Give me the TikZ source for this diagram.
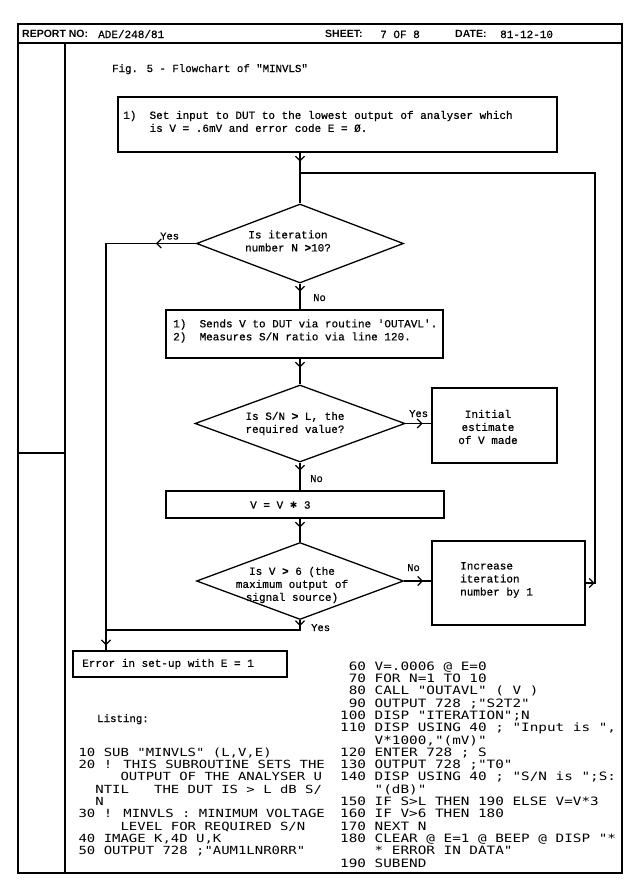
\documentclass[tikz,border=0pt]{standalone}
\usepackage{fontspec}
\setmainfont{Liberation Serif}
\newfontfamily\tw{Liberation Mono}[FakeBold=0.6]
\newfontfamily\hd{Liberation Sans}
\newfontfamily\lst{DejaVu Sans Mono}[FakeStretch=1.245]
\newfontfamily\djfont{DejaVu Sans}
\usetikzlibrary{shapes.geometric,arrows.meta,decorations.markings}
\setlength{\lineskiplimit}{-50pt}
\tikzset{
  frame/.style={line width=1.3pt, draw=black},
  flow/.style={line width=1.3pt, draw=black},
  box/.style={draw=black, line width=1.3pt, rectangle, inner sep=0pt},
  dia/.style={draw=black, line width=1.3pt, diamond, inner sep=0pt},
  txt/.style={font=\tw\fontsize{11}{13}\selectfont, inner sep=0pt, align=center},
  ltxt/.style={font=\tw\fontsize{11}{13}\selectfont, inner sep=0pt, align=left},
  lbl/.style={font=\tw\fontsize{10.5}{12}\selectfont, inner sep=0pt, anchor=base west},
  head/.style={font=\hd\bfseries\fontsize{10.5}{12}\selectfont, inner sep=0pt, anchor=base west},
  headv/.style={font=\tw\fontsize{11}{12}\selectfont, inner sep=0pt, anchor=base west},
  lstx/.style={font=\lst\fontsize{11.5}{12}\selectfont, inner sep=0pt, anchor=base west},
  lsty/.style={font=\lst\fontsize{11.2}{12}\selectfont, inner sep=0pt, anchor=base west},
  marrow/.style={postaction={decorate, decoration={markings, mark=at position #1 with {\arrow{Straight Barb[length=4.5pt,width=9pt,line width=1.3pt]}}}}},
}
\begin{document}
\begin{tikzpicture}[x=1pt,y=-1pt]
\useasboundingbox (0,0) rectangle (638,894);
% page frame
\draw[frame] (18,24) rectangle (622,873);
\draw[frame] (18,43) -- (622,43);
\draw[frame] (65,43) -- (65,873);
\draw[frame] (18,453) -- (65,453);
% header
\node[head] (hrep) at (22,37.5) {REPORT NO:};
\node[headv] (hrepv) at (98,38) {ADE/248/81};
\node[head] (hsh) at (325,37.5) {SHEET:};
\node[headv] (hshv) at (380,38) {7 OF 8};
\node[head] (hdate) at (455,37.5) {DATE:};
\node[headv] (hdatev) at (500,38) {81-12-10};
\node[headv, font=\tw\fontsize{10.75}{12}\selectfont] (fig) at (112,72) {Fig. 5 - Flowchart of "MINVLS"};
% boxes
\node[box, minimum width=439pt, minimum height=55pt] (b1) at (337.5,124.5) {};
\node[ltxt, anchor=west] (t1) at (123,121.5) {1)~~Set input to DUT to the lowest output of analyser which\\\null~~~~is V = .6mV and error code E = Ø.};
\node[dia, minimum width=207pt, minimum height=79pt] (d1) at (300,243.5) {};
\node[txt] (td1) at (288,241) {Is iteration\\number N {\bfseries>}10?};
\node[box, minimum width=277pt, minimum height=48pt] (b2) at (304.5,334) {};
\node[ltxt, anchor=west] (t2) at (173,331) {1)~~Sends V to DUT via routine 'OUTAVL'.\\2)~~Measures S/N ratio via line 120.};
\node[dia, minimum width=210pt, minimum height=77pt] (d2) at (300,423.5) {};
\node[txt] (td2) at (295,423.5) {Is S/N {\bfseries>} L, the\\required value?};
\node[box, minimum width=125pt, minimum height=75pt] (b3) at (494.5,425.5) {};
\node[txt] (t3) at (488,427) {Initial\\estimate\\of V made};
\node[box, minimum width=278pt, minimum height=27pt] (b4) at (305,504.5) {};
\node[ltxt, anchor=west] (t4) at (250,505) {V = V {\djfont\fontsize{9}{10}\selectfont ✱} 3};
\node[dia, minimum width=207pt, minimum height=77pt] (d3) at (300,581) {};
\node[txt] (td3) at (292,585) {Is V {\bfseries>} 6 (the\\maximum output of\\signal source)};
\node[box, minimum width=153pt, minimum height=84pt] (b5) at (508.5,583) {};
\node[ltxt, anchor=west] (t5) at (460,580) {Increase\\iteration\\number by 1};
\node[box, minimum width=214pt, minimum height=26pt] (err) at (180,664) {};
\node[ltxt, anchor=west] (terr) at (82,664) {Error in set-up with E = 1};
% helper coordinates
\coordinate (ecorner) at (106,243.5);
\coordinate (ycorner) at (106,630);
\coordinate (lpB) at (595,173);
\coordinate (jn) at (300,173);
% connectors
\draw[flow, marrow=9pt] (d1.north |- b1.south) -- (d1.north);
\draw[flow, marrow=40pt, marrow=-5pt] (d1.west) -- (ecorner) -- (ecorner |- err.north);
\draw[flow, marrow=8pt] (d1.south) -- (d1.south |- b2.north);
\draw[flow, marrow=9pt] (d2.north |- b2.south) -- (d2.north);
\draw[flow, marrow=17pt] (d2.east) -- (d2.east -| b3.west);
\draw[flow, marrow=8pt] (d2.south) -- (d2.south |- b4.north);
\draw[flow, marrow=9pt] (d3.north |- b4.south) -- (d3.north);
\draw[flow, marrow=19pt] (d3.east) -- (d3.east -| b5.west);
\draw[flow, marrow=6pt] (d3.south) |- (ycorner);
\draw[flow, marrow=9pt] (b5.east) -| (lpB) -- (jn);
% branch labels
\node[lbl] (y1) at (160,239.5) {Yes};
\node[lbl] (n1) at (313,301) {No};
\node[lbl] (y2) at (409,417) {Yes};
\node[lbl] (n2) at (310,482) {No};
\node[lbl] (n3) at (407,571) {No};
\node[lbl] (y3) at (311,631) {Yes};
% listing
\node[headv, font=\tw\fontsize{10.75}{12}\selectfont] (lsthead) at (97,722) {Listing:};
\begin{scope}
\clip (66,650) rectangle (620,872);
\node[lstx] (r0) at (340,670.2) {~60 V=.0006 @ E=0};
\node[lstx] (r1) at (340,682.5) {~70 FOR N=1 TO 10};
\node[lstx] (r2) at (340,694.8) {~80 CALL "OUTAVL" ( V )};
\node[lstx] (r3) at (340,707.1) {~90 OUTPUT 728 ;"S2T2"};
\node[lstx] (r4) at (340,719.4) {100 DISP "ITERATION";N};
\node[lstx] (r5) at (340,731.7) {110 DISP USING 40 ; "Input is ",};
\node[lstx] (r6) at (340,744.0) {~~~~V*1000,"(mV)"};
\node[lstx] (r7) at (340,756.3) {120 ENTER 728 ; S};
\node[lstx] (r8) at (340,768.6) {130 OUTPUT 728 ;"T0"};
\node[lstx] (r9) at (340,780.9) {140 DISP USING 40 ; "S/N is ";S:};
\node[lstx] (r10) at (340,793.2) {~~~~"(dB)"};
\node[lstx] (r11) at (340,805.5) {150 IF S>L THEN 190 ELSE V=V*3};
\node[lstx] (r12) at (340,817.8) {160 IF V>6 THEN 180};
\node[lstx] (r13) at (340,830.1) {170 NEXT N};
\node[lstx] (r14) at (340,842.4) {180 CLEAR @ E=1 @ BEEP @ DISP "*};
\node[lstx] (r15) at (340,854.7) {~~~~* ERROR IN DATA"};
\node[lstx] (r16) at (340,867.0) {190 SUBEND};
\node[lsty] (l7) at (70,756.3) {~10 SUB "MINVLS" (L,V,E)};
\node[lsty] (l8) at (70,768.6) {~20 ! THIS SUBROUTINE SETS THE};
\node[lsty] (l9) at (70,780.9) {~~~~~~OUTPUT OF THE ANALYSER U};
\node[lsty] (l10) at (70,793.2) {~~~NTIL~~~THE DUT IS > L dB S/};
\node[lsty] (l11) at (70,805.5) {~~~N};
\node[lsty] (l12) at (70,817.8) {~30 ! MINVLS : MINIMUM VOLTAGE};
\node[lsty] (l13) at (70,830.1) {~~~~~~LEVEL FOR REQUIRED S/N};
\node[lsty] (l14) at (70,842.4) {~40 IMAGE K,4D U,K};
\node[lsty] (l15) at (70,854.7) {~50 OUTPUT 728 ;"AUM1LNR0RR"};
\end{scope}
\end{tikzpicture}
\end{document}
